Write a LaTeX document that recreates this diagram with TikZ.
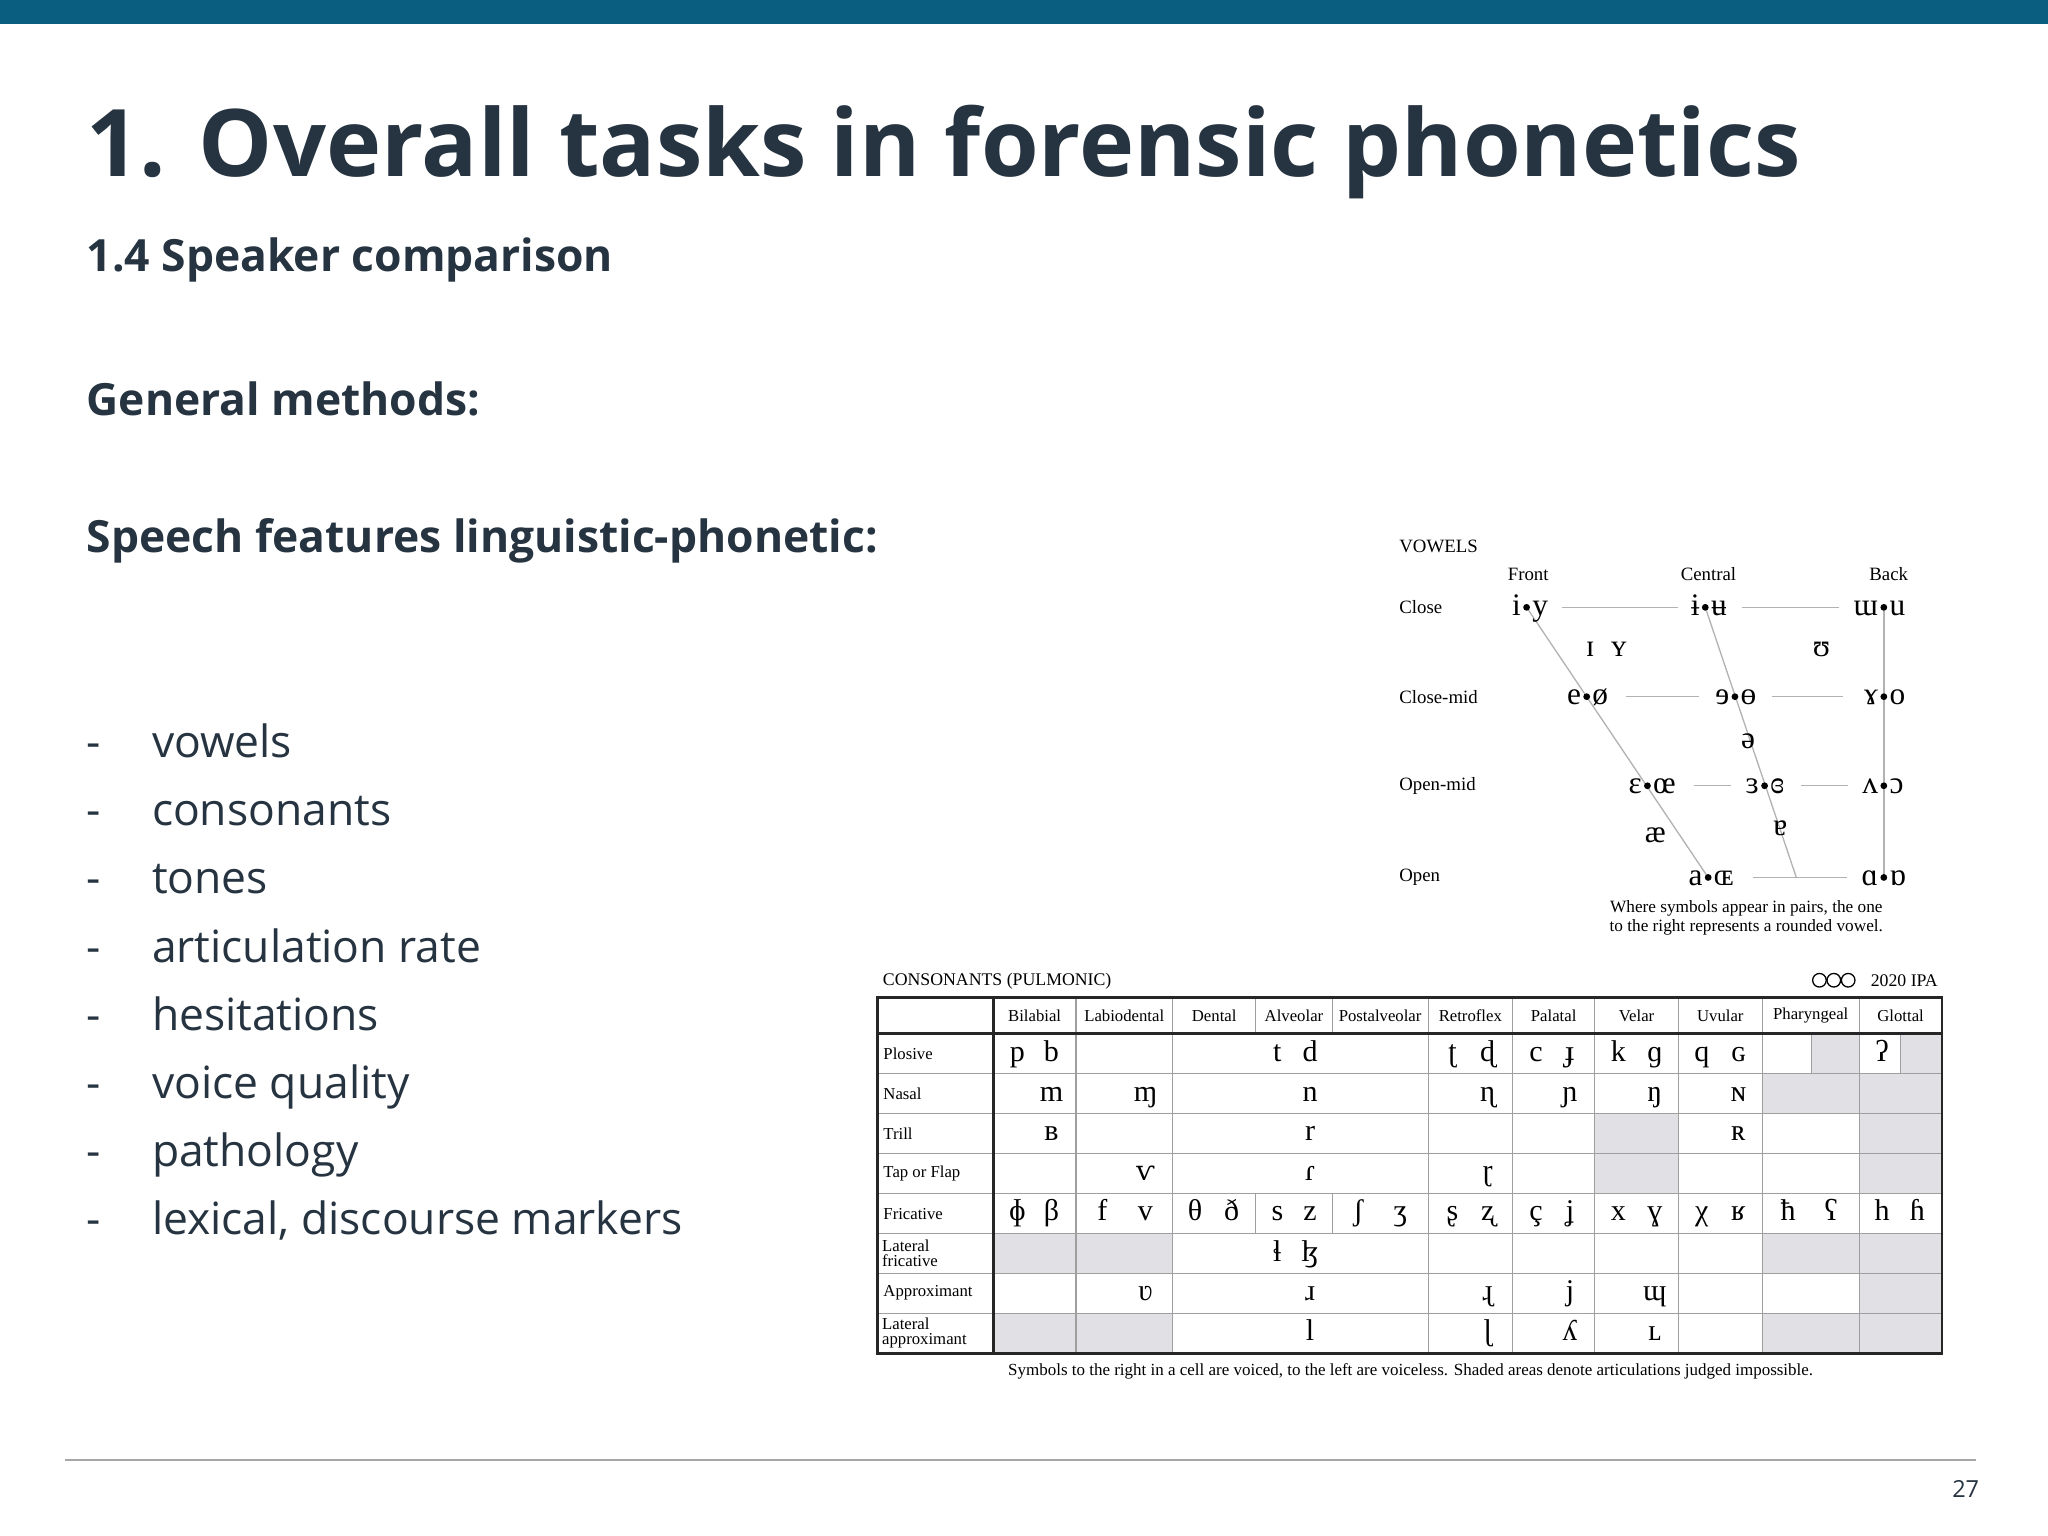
\documentclass[tikz,border=0pt]{standalone}
\usepackage{fontspec}
\setmainfont{Open Sans}
\newfontfamily\ipaf{Liberation Serif}
\newfontfamily\ipadv{DejaVu Serif}
\newfontfamily\dvs{DejaVu Sans}
\definecolor{band}{HTML}{0A5F80}
\definecolor{ttl}{HTML}{263340}
\definecolor{shd}{HTML}{E1E1E5}
\tikzset{
  sym/.style={font=\ipaf\fontsize{11.5}{12}\selectfont, anchor=base, inner sep=0pt},
  vsym/.style={font=\ipaf\fontsize{12}{12}\selectfont, anchor=base, inner sep=0pt},
  lab/.style={font=\ipaf\fontsize{6.4}{6.4}\selectfont, inner sep=0pt},
  vlab/.style={font=\ipaf\fontsize{7.2}{7.2}\selectfont, inner sep=0pt},
  thin/.style={draw=gray!75, line width=0.4pt},
  thick/.style={draw=black!85, line width=1pt},
  vline/.style={draw=gray!60, line width=0.5pt},
  dot/.style={circle, fill=black, inner sep=0pt, minimum size=2.6pt},
  body/.style={font=\fontsize{17}{20}\selectfont, text=ttl, anchor=base west, inner sep=0pt},
  bodyb/.style={body, font=\bfseries\fontsize{17}{20}\selectfont},
}
\newcommand\sy[3]{\node[sym] at (#1,#2) {#3};}
\begin{document}
\begin{tikzpicture}[x=0.5pt,y=-0.5pt]
\useasboundingbox (0,0) rectangle (1568,1176);
\fill[white] (0,0) rectangle (1568,1176);
\fill[band] (0,0) rectangle (1568,18);
% title
\node[anchor=base west, inner sep=0pt, text=ttl] (title) at (66,135)
  {\resizebox{656pt}{!}{\bfseries 1. Overall tasks in forensic phonetics}};
\node[bodyb] (sub) at (66,208) {1.4 Speaker comparison};
\node[bodyb] (gm) at (66,318) {General methods:};
\node[bodyb] (sf) at (66,423) {Speech features linguistic-phonetic:};
\foreach \t [count=\i] in {vowels,consonants,tones,articulation rate,hesitations,voice quality,pathology,{lexical, discourse markers}}{
  \pgfmathsetmacro\yy{580+52.2*(\i-1)}
  \node[body] (d\i) at (66,\yy) {-};
  \node[body] (b\i) at (116,\yy) {\t};
}
\draw[gray!70, line width=0.6pt] (50,1118) -- (1513,1118);
\node[font=\fontsize{9}{9}\selectfont, text=ttl] (pg) at (1505,1140) {27};

% ===== vowels =====
\node[vlab, anchor=west] (vw) at (1071,418) {VOWELS};
\node[vlab] (fr) at (1170,439.5) {Front};
\node[vlab] (ce) at (1308,439.5) {Central};
\node[vlab] (bk) at (1446,439.5) {Back};
\node[vlab, anchor=west] (l1) at (1071,465) {Close};
\node[vlab, anchor=west] (l2) at (1071,533.4) {Close-mid};
\node[vlab, anchor=west] (l3) at (1071,601.6) {Open-mid};
\node[vlab, anchor=west] (l4) at (1071,671.8) {Open};
% lines
\draw[vline] (1168.8,465) -- (1307.8,671.8);
\draw[vline] (1305.6,465) -- (1375.3,671.8);
\draw[vline] (1442.3,465) -- (1442.3,671.8);
\draw[vline] (1196,465) -- (1285,465) (1334,465) -- (1408,465);
\draw[vline] (1245,533.4) -- (1301,533.4) (1357,533.4) -- (1411,533.4);
\draw[vline] (1297,601.6) -- (1325,601.6) (1379,601.6) -- (1415,601.6);
\draw[vline] (1342,671.8) -- (1414,671.8);
% dots and symbols
\foreach \x/\y/\a/\b in {1168.8/465/i/y, 1305.6/465/ɨ/ʉ, 1442.3/465/ɯ/u,
  1214.8/533.4/e/ø, 1328.3/533.4/ɘ/ɵ, 1442.3/533.4/ɤ/o,
  1261.3/601.6/ɛ/œ, 1351/601.6/ɜ/ɞ, 1442.3/601.6/ʌ/ɔ,
  1307.8/671.8/a/ɶ, 1442.3/671.8/ɑ/ɒ}{
  \node[dot] at (\x,\y) {};
  \node[vsym, anchor=base east] at (\x-4,\y+6) {\a};
  \node[vsym, anchor=base west] at (\x+4,\y+6) {\b};
}
\node[vsym] at (1217.5,503) {ɪ};
\node[vsym] at (1239.4,503) {ʏ};
\node[vsym] at (1394.5,503) {ʊ};
\node[vsym] at (1338.4,573) {ə};
\node[vsym] at (1267.3,645) {æ};
\node[vsym] at (1363,640) {ɐ};
\node[lab, align=center, font=\ipaf\fontsize{6.6}{7.2}\selectfont] (vc) at (1337,702.5)
  {Where symbols appear in pairs, the one\\to the right represents a rounded vowel.};

% ===== consonants =====
\node[lab, anchor=west, font=\ipaf\fontsize{6.8}{6.8}\selectfont] (ct) at (675.6,750.9) {CONSONANTS (PULMONIC)};
\node[lab, anchor=east, font=\ipaf\fontsize{6.8}{6.8}\selectfont] (cp) at (1484,750.9) {2020 IPA};
\foreach \cx/\g in {1393/cc,1404/i,1415/=}{
  \draw[line width=0.5pt] (\cx,750.5) circle (2.6pt);
}
% shading
\foreach \x/\X/\r in {760.5/823.8/6, 823.8/897.7/6, 1349.2/1423.5/6, 1423.5/1486.8/6,
   760.5/823.8/8, 823.8/897.7/8, 1349.2/1423.5/8, 1423.5/1486.8/8,
   1349.2/1423.5/2, 1423.5/1486.8/2, 1221/1285/3, 1423.5/1486.8/3,
   1221/1285/4, 1423.5/1486.8/4, 1423.5/1486.8/7, 1386.6/1423.5/1, 1455.2/1486.8/1}{
  \fill[shd] (\x,{791.2+30.63*(\r-1)}) rectangle (\X,{791.2+30.63*\r});
}
% grid
\foreach \r in {1,...,7}{ \draw[thin] (672,{791.2+30.63*\r}) -- (1486.8,{791.2+30.63*\r}); }
\foreach \x in {823.8,897.7,1093.4,1158,1221,1285,1349.2,1423.5}{ \draw[thin] (\x,763.7) -- (\x,1036.2); }
\draw[thin] (961.5,763.7) -- (961.5,791.2) (1019.9,763.7) -- (1019.9,791.2);
\draw[thin] (961.5,913.7) -- (961.5,944.4) (1019.9,913.7) -- (1019.9,944.4);
\draw[thin] (1386.6,791.2) -- (1386.6,821.9) (1455.2,791.2) -- (1455.2,821.9);
\draw[thick] (672,763.7) rectangle (1486.8,1036.2);
\draw[thick] (672,791.2) -- (1486.8,791.2);
\draw[thick] (760.5,763.7) -- (760.5,1036.2);
% header
\foreach \a/\b/\t in {760.5/823.8/Bilabial, 823.8/897.7/Labiodental, 897.7/961.5/Dental,
  961.5/1019.9/Alveolar, 1019.9/1093.4/Postalveolar, 1093.4/1158/Retroflex, 1158/1221/Palatal,
  1221/1285/Velar, 1285/1349.2/Uvular, 1349.2/1423.5/Pharyngeal, 1423.5/1486.8/Glottal}{
  \node[lab] at ({(\a+\b)/2},777.5) {\t};
}
% row labels
\foreach \t [count=\r] in {Plosive,Nasal,Trill,Tap or Flap,Fricative}{
  \node[lab, anchor=west] at (676,{776+30.63*\r}) {\t};
}
\node[lab, anchor=west, align=left, font=\ipaf\fontsize{6.4}{5.6}\selectfont] at (675,959.5) {Lateral\\fricative};
\node[lab, anchor=west] at (676,990.1) {Approximant};
\node[lab, anchor=west, align=left, font=\ipaf\fontsize{6.4}{5.6}\selectfont] at (675,1020.7) {Lateral\\approximant};
% symbols: row baselines
\def\ra{812.5}\def\rb{843}\def\rc{873.5}\def\rd{904}\def\re{934.5}\def\rf{965.5}\def\rg{996}\def\rh{1026.5}
\sy{779}{\ra}{p}\sy{805}{\ra}{b}\sy{978}{\ra}{t}\sy{1003}{\ra}{d}\sy{1112}{\ra}{ʈ}\sy{1139}{\ra}{ɖ}
\sy{1176}{\ra}{c}\sy{1202}{\ra}{ɟ}\sy{1239}{\ra}{k}\sy{1267}{\ra}{ɡ}\sy{1303}{\ra}{q}\sy{1331}{\ra}{ɢ}\sy{1441}{\ra}{ʔ}
\sy{805}{\rb}{m}\sy{877}{\rb}{ɱ}\sy{1003}{\rb}{n}\sy{1139}{\rb}{ɳ}\sy{1202}{\rb}{ɲ}\sy{1267}{\rb}{ŋ}\sy{1331}{\rb}{ɴ}
\sy{805}{\rc}{ʙ}\sy{1003}{\rc}{r}\sy{1331}{\rc}{ʀ}
\node[sym, font=\ipadv\fontsize{10.5}{11}\selectfont] at (877,\rd) {ⱱ};
\sy{1003}{\rd}{ɾ}\sy{1139}{\rd}{ɽ}
\sy{779}{\re}{ɸ}\sy{805}{\re}{β}\sy{844}{\re}{f}\sy{877}{\re}{v}\sy{915}{\re}{θ}\sy{943}{\re}{ð}
\sy{978}{\re}{s}\sy{1003}{\re}{z}\sy{1040}{\re}{ʃ}\sy{1072}{\re}{ʒ}\sy{1112}{\re}{ʂ}\sy{1139}{\re}{ʐ}
\sy{1176}{\re}{ç}\sy{1202}{\re}{ʝ}\sy{1239}{\re}{x}\sy{1267}{\re}{ɣ}\sy{1303}{\re}{χ}\sy{1331}{\re}{ʁ}
\sy{1369}{\re}{ħ}\sy{1402}{\re}{ʕ}\sy{1441}{\re}{h}\sy{1468}{\re}{ɦ}
\sy{978}{\rf}{ɬ}\sy{1003}{\rf}{ɮ}
\sy{877}{\rg}{ʋ}\sy{1003}{\rg}{ɹ}\sy{1139}{\rg}{ɻ}\sy{1202}{\rg}{j}\sy{1267}{\rg}{ɰ}
\sy{1003}{\rh}{l}\sy{1139}{\rh}{ɭ}\sy{1202}{\rh}{ʎ}\sy{1267}{\rh}{ʟ}
\node[lab, font=\ipaf\fontsize{6.5}{6.5}\selectfont] (foot) at (1080,1050)
  {Symbols to the right in a cell are voiced, to the left are voiceless. Shaded areas denote articulations judged impossible.};
\end{tikzpicture}
\end{document}
